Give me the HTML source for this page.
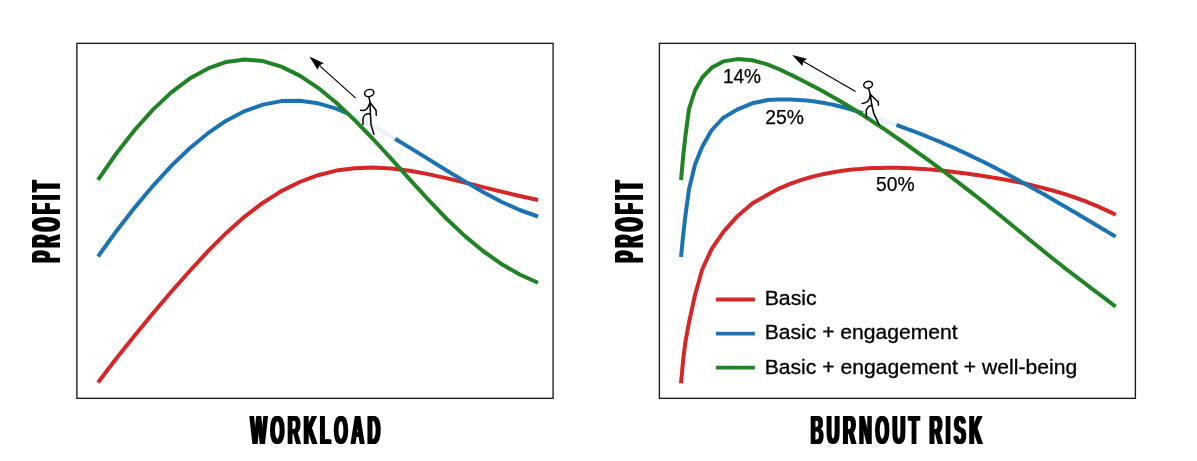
<!DOCTYPE html>
<html lang="en"><head><meta charset="utf-8"><title>Profit vs workload and burnout risk</title>
<style>
html,body{margin:0;padding:0;background:#fff}
body{width:1197px;height:461px;overflow:hidden;position:relative}
svg{display:block;position:absolute;left:0;top:0}
.lab{position:absolute;white-space:nowrap;font-family:"Liberation Sans",sans-serif;font-weight:700;font-size:41.0px;line-height:1;color:#000;letter-spacing:8.0px;margin:0;
text-shadow:2.79px 0 0 #000,-2.79px 0 0 #000;transform-origin:0 0}
</style></head>
<body>
<svg width="1197" height="461" viewBox="0 0 1197 461">
<rect width="1197" height="461" fill="#fff"/>
<rect x="76.9" y="43.35" width="476.2" height="355" fill="none" stroke="#1a1a1a" stroke-width="1.35"/>
<rect x="659.4" y="43.35" width="476" height="355" fill="none" stroke="#1a1a1a" stroke-width="1.35"/>
<path d="M98.0,382.5 L116.3,358.5 L134.7,335.5 L153.0,313.3 L171.3,291.8 L189.7,271.0 L208.0,251.2 L226.3,232.9 L244.7,216.6 L263.0,202.7 L281.3,191.1 L299.7,182.0 L318.0,175.2 L336.3,170.6 L354.7,168.2 L373.0,167.6 L391.3,168.5 L409.7,170.8 L428.0,174.1 L446.3,178.1 L464.7,182.5 L483.0,187.1 L501.3,191.6 L519.7,196.0 L538.0,200.0" fill="none" stroke="#d62728" stroke-width="4" stroke-linejoin="round"/>
<path d="M98.0,256.5 L98.0,256.5 L116.3,231.3 L134.7,207.6 L153.0,185.8 L171.3,165.9 L189.7,148.3 L208.0,133.2 L226.3,120.7 L244.7,111.1 L263.0,104.6 L281.3,101.1 L299.7,100.7 L318.0,103.3 L336.3,108.7 L347.5,113.4" fill="none" stroke="#1c73b2" stroke-width="4" stroke-linejoin="round"/>
<path d="M395.0,138.7 L409.7,147.6 L428.0,158.9 L446.3,170.2 L464.7,181.4 L483.0,192.0 L501.3,201.7 L519.7,210.0 L538.0,216.5 L538.0,216.5" fill="none" stroke="#1c73b2" stroke-width="4" stroke-linejoin="round"/>
<path d="M347.0,113.2 L354.7,116.4 L373.0,125.9 L391.3,136.5 L395.0,138.7" fill="none" stroke="#eaf2f9" stroke-width="4"/>
<path d="M98.0,179.8 L116.3,153.5 L134.7,130.0 L153.0,109.6 L171.3,92.4 L189.7,78.6 L208.0,68.4 L226.3,61.9 L244.7,59.4 L263.0,61.1 L281.3,66.6 L299.7,75.6 L318.0,87.8 L336.3,102.8 L354.7,120.1 L373.0,139.0 L391.3,158.9 L409.7,179.3 L428.0,199.4 L446.3,218.5 L464.7,235.9 L483.0,251.0 L501.3,263.9 L519.7,274.5 L538.0,282.8" fill="none" stroke="#208324" stroke-width="4" stroke-linejoin="round"/>
<line x1="355.7" y1="98.1" x2="319.3" y2="65.4" stroke="#000" stroke-width="1.2"/><polygon points="309.4,56.5 323.8,63.2 319.3,65.4 317.6,69.7" fill="#000"/>
<g fill="none" stroke="#000" stroke-width="1.5" stroke-linecap="round" stroke-linejoin="round">
<ellipse cx="369.2" cy="93" rx="4.7" ry="3.5" transform="rotate(-15 369.2 93)"/>
<path d="M368.9,97.2 L370.1,102.5 L370.4,113.8"/>
<path d="M370.1,102.5 Q368.5,107.5 366.1,109.6 Q363.5,110.8 360.5,110.3"/>
<path d="M370.1,102.5 L376,110.3 L376.3,115.2"/>
<path d="M370.4,113.8 Q366.5,113.5 365.4,114.5 Q363.2,116.5 363,118.7 L363,124.4"/>
<path d="M370.4,113.8 L371.1,125.1 L373.9,134.2"/>
</g>
<path d="M681.0,383.4 L683.3,358.8 L685.3,342.6 L689.0,322.5 L695.0,295.0 L702.2,269.5 L711.7,248.8 L723.4,231.8 L737.0,216.6 L752.6,203.3 L768.4,194.2 L776.7,189.7 L780.5,187.9 L784.3,186.3 L788.2,184.7 L792.1,183.2 L796.0,181.8 L799.9,180.4 L803.9,179.2 L807.9,178.0 L811.9,176.9 L815.9,175.9 L819.9,174.9 L824.0,174.0 L828.1,173.2 L832.1,172.5 L836.2,171.8 L840.3,171.1 L844.4,170.6 L848.5,170.1 L852.7,169.6 L856.8,169.2 L860.9,168.9 L865.0,168.6 L869.2,168.3 L873.3,168.1 L877.4,168.0 L881.6,167.9 L885.7,167.8 L889.8,167.8 L894.0,167.8 L898.1,167.8 L902.3,167.9 L906.4,168.1 L910.6,168.2 L914.7,168.4 L918.8,168.7 L923.0,168.9 L927.1,169.3 L931.3,169.6 L935.4,170.0 L939.5,170.3 L943.7,170.8 L947.8,171.2 L951.9,171.7 L956.1,172.2 L960.2,172.7 L964.3,173.3 L968.4,173.8 L972.5,174.4 L976.7,175.0 L980.8,175.6 L984.9,176.3 L989.0,176.9 L993.1,177.6 L997.2,178.3 L1001.3,179.0 L1005.3,179.7 L1009.4,180.5 L1013.5,181.3 L1017.5,182.1 L1021.6,182.9 L1025.7,183.8 L1029.7,184.7 L1033.7,185.7 L1037.7,186.6 L1041.8,187.6 L1045.8,188.7 L1049.7,189.7 L1053.7,190.8 L1057.7,192.0 L1061.7,193.2 L1065.6,194.4 L1069.5,195.7 L1073.5,197.0 L1077.4,198.4 L1081.3,199.8 L1085.2,201.2 L1089.0,202.8 L1092.9,204.3 L1096.7,205.9 L1100.5,207.6 L1104.3,209.3 L1108.1,211.1 L1111.9,212.9 L1115.7,214.8" fill="none" stroke="#d62728" stroke-width="4" stroke-linejoin="round"/>
<path d="M681.0,257.0 L683.3,234.0 L685.3,216.5 L689.0,189.3 L695.0,164.5 L702.2,146.8 L711.4,130.5 L723.0,118.0 L737.0,109.6 L752.2,103.3 L768.0,100.0 L777.7,99.6 L781.8,99.5 L786.0,99.4 L790.2,99.5 L794.4,99.7 L798.5,99.9 L802.6,100.2 L806.8,100.6 L810.9,101.0 L815.0,101.6 L819.1,102.2 L823.1,102.8 L827.2,103.6 L831.2,104.4 L835.3,105.3 L839.3,106.3 L843.3,107.3 L847.2,108.4 L851.2,109.6 L855.2,110.8 L859.1,112.1 L863.1,113.4 L863.5,113.5" fill="none" stroke="#1c73b2" stroke-width="4" stroke-linejoin="round"/>
<path d="M896.3,125.0 L898.3,125.7 L902.2,127.1 L906.1,128.5 L910.0,130.0 L913.9,131.4 L917.8,132.9 L921.6,134.4 L925.5,135.9 L929.3,137.5 L933.1,139.0 L937.0,140.6 L940.8,142.2 L944.6,143.9 L948.4,145.5 L952.2,147.2 L956.0,148.9 L959.7,150.6 L963.5,152.3 L967.2,154.1 L971.0,155.9 L974.7,157.7 L978.4,159.5 L982.2,161.3 L985.9,163.1 L989.6,165.0 L993.3,166.9 L996.9,168.8 L1000.6,170.7 L1004.3,172.6 L1007.9,174.5 L1011.6,176.5 L1015.3,178.5 L1018.9,180.4 L1022.5,182.4 L1026.2,184.4 L1029.8,186.4 L1033.4,188.5 L1037.0,190.5 L1040.6,192.5 L1044.2,194.6 L1047.8,196.6 L1051.4,198.7 L1055.0,200.8 L1058.6,202.9 L1062.2,204.9 L1065.8,207.0 L1069.3,209.1 L1072.9,211.2 L1076.5,213.3 L1080.0,215.5 L1083.6,217.6 L1087.2,219.7 L1090.7,221.8 L1094.3,223.9 L1097.8,226.0 L1101.4,228.2 L1105.0,230.3 L1108.5,232.4 L1112.1,234.5 L1115.6,236.6 L1115.6,236.6" fill="none" stroke="#1c73b2" stroke-width="4" stroke-linejoin="round"/>
<path d="M863.0,113.4 L863.1,113.4 L867.0,114.7 L870.9,116.1 L874.8,117.4 L878.8,118.8 L882.7,120.2 L886.6,121.5 L890.5,122.9 L894.4,124.3 L896.3,125.0" fill="none" stroke="#eaf2f9" stroke-width="4"/>
<path d="M681.0,180.0 L683.3,155.0 L685.3,137.0 L689.0,109.0 L695.0,90.5 L702.3,77.5 L711.5,67.8 L723.3,61.4 L737.2,59.1 L752.3,60.2 L768.0,64.6 L779.8,69.5 L783.7,71.4 L787.6,73.2 L791.6,75.1 L795.5,77.1 L799.4,79.0 L803.2,81.0 L807.1,83.0 L810.9,85.0 L814.8,87.0 L818.6,89.0 L822.4,91.1 L826.2,93.2 L829.9,95.3 L833.7,97.5 L837.4,99.6 L841.2,101.8 L844.9,104.0 L848.6,106.3 L852.3,108.5 L856.0,110.8 L859.6,113.1 L863.3,115.4 L866.9,117.8 L870.6,120.1 L874.2,122.5 L877.8,124.9 L881.5,127.3 L885.1,129.7 L888.7,132.2 L892.2,134.6 L895.8,137.1 L899.4,139.5 L902.9,142.0 L906.5,144.5 L910.0,147.0 L913.6,149.6 L917.1,152.1 L920.6,154.6 L924.2,157.1 L927.7,159.7 L931.2,162.2 L934.7,164.8 L938.2,167.4 L941.7,170.0 L945.1,172.5 L948.6,175.1 L952.1,177.7 L955.5,180.4 L959.0,183.0 L962.4,185.6 L965.9,188.3 L969.3,190.9 L972.7,193.6 L976.1,196.3 L979.5,198.9 L982.9,201.6 L986.3,204.3 L989.7,207.1 L993.1,209.8 L996.4,212.5 L999.8,215.3 L1003.2,218.0 L1006.5,220.8 L1009.9,223.5 L1013.2,226.3 L1016.6,229.0 L1019.9,231.8 L1023.3,234.5 L1026.6,237.3 L1030.0,240.1 L1033.3,242.8 L1036.7,245.5 L1040.1,248.3 L1043.4,251.0 L1046.8,253.7 L1050.2,256.5 L1053.6,259.2 L1057.0,261.9 L1060.4,264.5 L1063.8,267.2 L1067.2,269.9 L1070.7,272.5 L1074.1,275.2 L1077.6,277.8 L1081.0,280.4 L1084.5,283.0 L1087.9,285.6 L1091.4,288.3 L1094.9,290.9 L1098.3,293.5 L1101.8,296.1 L1105.2,298.7 L1108.7,301.3 L1112.1,304.0 L1115.6,306.6" fill="none" stroke="#208324" stroke-width="4" stroke-linejoin="round"/>
<line x1="855.6" y1="91.6" x2="803.5" y2="61.6" stroke="#000" stroke-width="1.2"/><polygon points="792.2,55.1 807.1,58.7 803.5,61.6 802.3,66.1" fill="#000"/>
<g fill="none" stroke="#000" stroke-width="1.5" stroke-linecap="round" stroke-linejoin="round">
<ellipse cx="868.1" cy="84.7" rx="4.4" ry="3.4" transform="rotate(-15 868.1 84.7)"/>
<path d="M868.7,88.7 L870.4,94.6 L871.8,105.2"/>
<path d="M870.4,94.6 Q869.5,99.5 867.5,101.7 Q865,103.3 862.2,103.5"/>
<path d="M870.4,94.6 L878.1,101.7 L878.5,105.2"/>
<path d="M871.8,105.2 Q869.5,105.6 868.2,106.9 Q866.3,109 866.1,111.5 L866.5,116.8"/>
<path d="M871.8,105.2 L873.9,113.7 L879.1,124.5"/>
</g>
<line x1="715.9" y1="299.5" x2="754.9" y2="299.5" stroke="#d62728" stroke-width="3.8"/>
<line x1="715.9" y1="333.6" x2="754.9" y2="333.6" stroke="#1c73b2" stroke-width="3.8"/>
<line x1="715.9" y1="367.7" x2="754.9" y2="367.7" stroke="#208324" stroke-width="3.8"/>
<g font-family="'Liberation Sans', sans-serif" font-size="19.7" fill="#000" stroke="#000" stroke-width="0.3">
<text x="764.7" y="305.2" textLength="52" lengthAdjust="spacingAndGlyphs">Basic</text>
<text x="764.7" y="339.4" textLength="193" lengthAdjust="spacingAndGlyphs">Basic + engagement</text>
<text x="764.7" y="373.6" textLength="312.5" lengthAdjust="spacingAndGlyphs">Basic + engagement + well-being</text>
</g>
<g font-family="'Liberation Sans', sans-serif" font-size="20.7" fill="#000" stroke="#000" stroke-width="0.25">
<text x="722.9" y="82.6" textLength="38.2" lengthAdjust="spacingAndGlyphs">14%</text>
<text x="765.3" y="124.2" textLength="38.6" lengthAdjust="spacingAndGlyphs">25%</text>
<text x="876" y="191" textLength="38.6" lengthAdjust="spacingAndGlyphs">50%</text>
</g>
</svg>
<div class="lab" style="left:317px;top:451.3px;transform:scaleX(0.43) translate(-50%,-100%);">WORKLOAD</div>
<div class="lab" style="left:897.8px;top:451.1px;transform:scaleX(0.43) translate(-50%,-100%);word-spacing:-4px;">BURNOUT RISK</div>
<div class="lab" style="left:67.2px;top:219.8px;transform:rotate(-90deg) scaleX(0.43) translate(-50%,-100%);">PROFIT</div>
<div class="lab" style="left:650.3px;top:219.8px;transform:rotate(-90deg) scaleX(0.43) translate(-50%,-100%);">PROFIT</div>
</body></html>
